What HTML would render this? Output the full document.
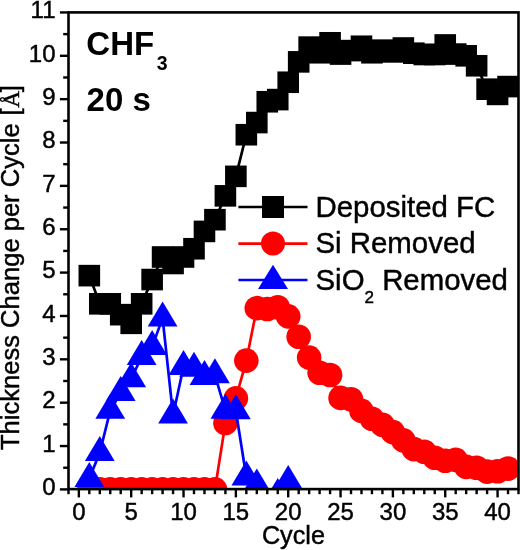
<!DOCTYPE html>
<html lang="en"><head><meta charset="utf-8"><title>Thickness Change per Cycle</title>
<style>html,body{margin:0;padding:0;background:#fff}body{width:520px;height:550px;overflow:hidden}svg{display:block}text{font-family:"Liberation Sans",Arial,sans-serif;fill:#000}.r text,text.r{stroke:#000;stroke-width:0.45px}</style>
</head><body>
<svg width="520" height="550" viewBox="0 0 520 550">
<rect width="520" height="550" fill="#fff"/>
<defs><clipPath id="plot"><rect x="68.5" y="12.4" width="450" height="476.7"/></clipPath></defs>
<g clip-path="url(#plot)">
<polyline points="89.32,275.64 99.79,303.82 110.25,303.82 120.72,314.66 131.19,323.33 141.66,303.82 152.13,279.54 162.59,256.99 173.06,263.49 183.53,256.99 194,248.75 204.47,231.41 214.93,219.7 225.4,195.85 235.87,176.34 246.34,134.72 256.81,122.57 267.27,101.76 277.74,99.59 288.21,82.25 298.68,61.87 309.15,47.13 319.61,52.76 330.08,42.79 340.55,54.07 351.02,50.6 361.49,46.26 371.95,52.76 382.42,50.16 392.89,51.9 403.36,48 413.83,53.2 424.29,54.5 434.76,54.5 445.23,44.96 455.7,54.07 466.17,55.8 476.63,65.77 487.1,89.19 497.57,94.39 508.04,86.59" fill="none" stroke="#000" stroke-width="2.7"/>
<g fill="#000">
<rect x="78.52" y="264.84" width="21.6" height="21.6"/>
<rect x="88.99" y="293.02" width="21.6" height="21.6"/>
<rect x="99.45" y="293.02" width="21.6" height="21.6"/>
<rect x="109.92" y="303.86" width="21.6" height="21.6"/>
<rect x="120.39" y="312.53" width="21.6" height="21.6"/>
<rect x="130.86" y="293.02" width="21.6" height="21.6"/>
<rect x="141.33" y="268.74" width="21.6" height="21.6"/>
<rect x="151.79" y="246.19" width="21.6" height="21.6"/>
<rect x="162.26" y="252.69" width="21.6" height="21.6"/>
<rect x="172.73" y="246.19" width="21.6" height="21.6"/>
<rect x="183.2" y="237.95" width="21.6" height="21.6"/>
<rect x="193.67" y="220.61" width="21.6" height="21.6"/>
<rect x="204.13" y="208.9" width="21.6" height="21.6"/>
<rect x="214.6" y="185.05" width="21.6" height="21.6"/>
<rect x="225.07" y="165.54" width="21.6" height="21.6"/>
<rect x="235.54" y="123.92" width="21.6" height="21.6"/>
<rect x="246.01" y="111.77" width="21.6" height="21.6"/>
<rect x="256.47" y="90.96" width="21.6" height="21.6"/>
<rect x="266.94" y="88.79" width="21.6" height="21.6"/>
<rect x="277.41" y="71.45" width="21.6" height="21.6"/>
<rect x="287.88" y="51.07" width="21.6" height="21.6"/>
<rect x="298.35" y="36.33" width="21.6" height="21.6"/>
<rect x="308.81" y="41.96" width="21.6" height="21.6"/>
<rect x="319.28" y="31.99" width="21.6" height="21.6"/>
<rect x="329.75" y="43.27" width="21.6" height="21.6"/>
<rect x="340.22" y="39.8" width="21.6" height="21.6"/>
<rect x="350.69" y="35.46" width="21.6" height="21.6"/>
<rect x="361.15" y="41.96" width="21.6" height="21.6"/>
<rect x="371.62" y="39.36" width="21.6" height="21.6"/>
<rect x="382.09" y="41.1" width="21.6" height="21.6"/>
<rect x="392.56" y="37.2" width="21.6" height="21.6"/>
<rect x="403.03" y="42.4" width="21.6" height="21.6"/>
<rect x="413.49" y="43.7" width="21.6" height="21.6"/>
<rect x="423.96" y="43.7" width="21.6" height="21.6"/>
<rect x="434.43" y="34.16" width="21.6" height="21.6"/>
<rect x="444.9" y="43.27" width="21.6" height="21.6"/>
<rect x="455.37" y="45" width="21.6" height="21.6"/>
<rect x="465.83" y="54.97" width="21.6" height="21.6"/>
<rect x="476.3" y="78.39" width="21.6" height="21.6"/>
<rect x="486.77" y="83.59" width="21.6" height="21.6"/>
<rect x="497.24" y="75.79" width="21.6" height="21.6"/>
</g>
<polyline points="89.32,489.4 99.79,489.4 110.25,489.4 120.72,489.4 131.19,489.4 141.66,489.4 152.13,489.4 162.59,489.4 173.06,489.4 183.53,489.4 194,489.4 204.47,489.4 214.93,489.4 225.4,423.06 235.87,398.34 246.34,360.62 256.81,308.16 267.27,309.02 277.74,307.29 288.21,316.39 298.68,336.77 309.15,357.59 319.61,372.76 330.08,374.93 340.55,397.91 351.02,399.21 361.49,410.92 371.95,418.72 382.42,424.79 392.89,432.16 403.36,440.4 413.83,449.08 424.29,451.68 434.76,457.75 445.23,460.78 455.7,459.92 466.17,466.85 476.63,467.72 487.1,471.62 497.57,471.19 508.04,468.59" fill="none" stroke="#f00" stroke-width="2.7"/>
<g fill="#f00">
<circle cx="89.32" cy="489.4" r="12.3"/>
<circle cx="99.79" cy="489.4" r="12.3"/>
<circle cx="110.25" cy="489.4" r="12.3"/>
<circle cx="120.72" cy="489.4" r="12.3"/>
<circle cx="131.19" cy="489.4" r="12.3"/>
<circle cx="141.66" cy="489.4" r="12.3"/>
<circle cx="152.13" cy="489.4" r="12.3"/>
<circle cx="162.59" cy="489.4" r="12.3"/>
<circle cx="173.06" cy="489.4" r="12.3"/>
<circle cx="183.53" cy="489.4" r="12.3"/>
<circle cx="194" cy="489.4" r="12.3"/>
<circle cx="204.47" cy="489.4" r="12.3"/>
<circle cx="214.93" cy="489.4" r="12.3"/>
<circle cx="225.4" cy="423.06" r="12.3"/>
<circle cx="235.87" cy="398.34" r="12.3"/>
<circle cx="246.34" cy="360.62" r="12.3"/>
<circle cx="256.81" cy="308.16" r="12.3"/>
<circle cx="267.27" cy="309.02" r="12.3"/>
<circle cx="277.74" cy="307.29" r="12.3"/>
<circle cx="288.21" cy="316.39" r="12.3"/>
<circle cx="298.68" cy="336.77" r="12.3"/>
<circle cx="309.15" cy="357.59" r="12.3"/>
<circle cx="319.61" cy="372.76" r="12.3"/>
<circle cx="330.08" cy="374.93" r="12.3"/>
<circle cx="340.55" cy="397.91" r="12.3"/>
<circle cx="351.02" cy="399.21" r="12.3"/>
<circle cx="361.49" cy="410.92" r="12.3"/>
<circle cx="371.95" cy="418.72" r="12.3"/>
<circle cx="382.42" cy="424.79" r="12.3"/>
<circle cx="392.89" cy="432.16" r="12.3"/>
<circle cx="403.36" cy="440.4" r="12.3"/>
<circle cx="413.83" cy="449.08" r="12.3"/>
<circle cx="424.29" cy="451.68" r="12.3"/>
<circle cx="434.76" cy="457.75" r="12.3"/>
<circle cx="445.23" cy="460.78" r="12.3"/>
<circle cx="455.7" cy="459.92" r="12.3"/>
<circle cx="466.17" cy="466.85" r="12.3"/>
<circle cx="476.63" cy="467.72" r="12.3"/>
<circle cx="487.1" cy="471.62" r="12.3"/>
<circle cx="497.57" cy="471.19" r="12.3"/>
<circle cx="508.04" cy="468.59" r="12.3"/>
</g>
<polyline points="89.32,478.56 99.79,452.54 110.25,410.48 120.72,392.71 131.19,378.83 141.66,356.72 152.13,346.75 162.59,318.13 173.06,415.25 183.53,366.69 194,368.43 204.47,376.66 214.93,374.93 225.4,410.48 235.87,410.92 246.34,477.26 256.81,485.06 267.27,513.25 277.74,494.6 288.21,481.6" fill="none" stroke="#00f" stroke-width="2.7"/>
<g fill="#00f">
<polygon points="89.32,461.89 104.22,486.89 74.42,486.89"/>
<polygon points="99.79,435.88 114.69,460.88 84.89,460.88"/>
<polygon points="110.25,393.82 125.15,418.82 95.35,418.82"/>
<polygon points="120.72,376.04 135.62,401.04 105.82,401.04"/>
<polygon points="131.19,362.17 146.09,387.17 116.29,387.17"/>
<polygon points="141.66,340.05 156.56,365.05 126.76,365.05"/>
<polygon points="152.13,330.08 167.03,355.08 137.23,355.08"/>
<polygon points="162.59,301.46 177.49,326.46 147.69,326.46"/>
<polygon points="173.06,398.59 187.96,423.59 158.16,423.59"/>
<polygon points="183.53,350.02 198.43,375.02 168.63,375.02"/>
<polygon points="194,351.76 208.9,376.76 179.1,376.76"/>
<polygon points="204.47,360 219.37,385 189.57,385"/>
<polygon points="214.93,358.26 229.83,383.26 200.03,383.26"/>
<polygon points="225.4,393.82 240.3,418.82 210.5,418.82"/>
<polygon points="235.87,394.25 250.77,419.25 220.97,419.25"/>
<polygon points="246.34,460.59 261.24,485.59 231.44,485.59"/>
<polygon points="256.81,468.4 271.71,493.4 241.91,493.4"/>
<polygon points="267.27,496.58 282.17,521.58 252.37,521.58"/>
<polygon points="277.74,477.94 292.64,502.94 262.84,502.94"/>
<polygon points="288.21,464.93 303.11,489.93 273.31,489.93"/>
</g>
</g>
<g stroke-width="2.7">
<line x1="238.4" y1="207" x2="307.5" y2="207" stroke="#000"/>
<line x1="238.4" y1="243.6" x2="307.5" y2="243.6" stroke="#f00"/>
<line x1="238.4" y1="280" x2="307.5" y2="280" stroke="#00f"/>
</g>
<rect x="262" y="196" width="22" height="22" fill="#000"/>
<circle cx="273" cy="243.6" r="12" fill="#f00"/>
<polygon points="273,264.8 288,289 258,289" fill="#00f"/>
<g class="r" font-size="29.4">
<text x="315.5" y="216.5">Deposited FC</text>
<text x="315.5" y="253">Si Removed</text>
<text x="315.5" y="289.5">SiO<tspan font-size="17" dy="13">2</tspan><tspan dy="-13"> Removed</tspan></text>
</g>
<rect x="68.5" y="12.4" width="450" height="476.7" fill="none" stroke="#000" stroke-width="2.6"/>
<g stroke="#000" stroke-width="2.4">
<line x1="78.85" y1="489.1" x2="78.85" y2="497.4"/>
<line x1="89.32" y1="489.1" x2="89.32" y2="494.2"/>
<line x1="99.79" y1="489.1" x2="99.79" y2="494.2"/>
<line x1="110.25" y1="489.1" x2="110.25" y2="494.2"/>
<line x1="120.72" y1="489.1" x2="120.72" y2="494.2"/>
<line x1="131.19" y1="489.1" x2="131.19" y2="497.4"/>
<line x1="141.66" y1="489.1" x2="141.66" y2="494.2"/>
<line x1="152.13" y1="489.1" x2="152.13" y2="494.2"/>
<line x1="162.59" y1="489.1" x2="162.59" y2="494.2"/>
<line x1="173.06" y1="489.1" x2="173.06" y2="494.2"/>
<line x1="183.53" y1="489.1" x2="183.53" y2="497.4"/>
<line x1="194" y1="489.1" x2="194" y2="494.2"/>
<line x1="204.47" y1="489.1" x2="204.47" y2="494.2"/>
<line x1="214.93" y1="489.1" x2="214.93" y2="494.2"/>
<line x1="225.4" y1="489.1" x2="225.4" y2="494.2"/>
<line x1="235.87" y1="489.1" x2="235.87" y2="497.4"/>
<line x1="246.34" y1="489.1" x2="246.34" y2="494.2"/>
<line x1="256.81" y1="489.1" x2="256.81" y2="494.2"/>
<line x1="267.27" y1="489.1" x2="267.27" y2="494.2"/>
<line x1="277.74" y1="489.1" x2="277.74" y2="494.2"/>
<line x1="288.21" y1="489.1" x2="288.21" y2="497.4"/>
<line x1="298.68" y1="489.1" x2="298.68" y2="494.2"/>
<line x1="309.15" y1="489.1" x2="309.15" y2="494.2"/>
<line x1="319.61" y1="489.1" x2="319.61" y2="494.2"/>
<line x1="330.08" y1="489.1" x2="330.08" y2="494.2"/>
<line x1="340.55" y1="489.1" x2="340.55" y2="497.4"/>
<line x1="351.02" y1="489.1" x2="351.02" y2="494.2"/>
<line x1="361.49" y1="489.1" x2="361.49" y2="494.2"/>
<line x1="371.95" y1="489.1" x2="371.95" y2="494.2"/>
<line x1="382.42" y1="489.1" x2="382.42" y2="494.2"/>
<line x1="392.89" y1="489.1" x2="392.89" y2="497.4"/>
<line x1="403.36" y1="489.1" x2="403.36" y2="494.2"/>
<line x1="413.83" y1="489.1" x2="413.83" y2="494.2"/>
<line x1="424.29" y1="489.1" x2="424.29" y2="494.2"/>
<line x1="434.76" y1="489.1" x2="434.76" y2="494.2"/>
<line x1="445.23" y1="489.1" x2="445.23" y2="497.4"/>
<line x1="455.7" y1="489.1" x2="455.7" y2="494.2"/>
<line x1="466.17" y1="489.1" x2="466.17" y2="494.2"/>
<line x1="476.63" y1="489.1" x2="476.63" y2="494.2"/>
<line x1="487.1" y1="489.1" x2="487.1" y2="494.2"/>
<line x1="497.57" y1="489.1" x2="497.57" y2="497.4"/>
<line x1="508.04" y1="489.1" x2="508.04" y2="494.2"/>
<line x1="68.5" y1="489.1" x2="68.5" y2="494.2"/>
<line x1="518.5" y1="489.1" x2="518.5" y2="494.2"/>
<line x1="59.9" y1="489.4" x2="68.5" y2="489.4"/>
<line x1="63.2" y1="467.72" x2="68.5" y2="467.72"/>
<line x1="59.9" y1="446.04" x2="68.5" y2="446.04"/>
<line x1="63.2" y1="424.36" x2="68.5" y2="424.36"/>
<line x1="59.9" y1="402.68" x2="68.5" y2="402.68"/>
<line x1="63.2" y1="381" x2="68.5" y2="381"/>
<line x1="59.9" y1="359.32" x2="68.5" y2="359.32"/>
<line x1="63.2" y1="337.64" x2="68.5" y2="337.64"/>
<line x1="59.9" y1="315.96" x2="68.5" y2="315.96"/>
<line x1="63.2" y1="294.28" x2="68.5" y2="294.28"/>
<line x1="59.9" y1="272.6" x2="68.5" y2="272.6"/>
<line x1="63.2" y1="250.92" x2="68.5" y2="250.92"/>
<line x1="59.9" y1="229.24" x2="68.5" y2="229.24"/>
<line x1="63.2" y1="207.56" x2="68.5" y2="207.56"/>
<line x1="59.9" y1="185.88" x2="68.5" y2="185.88"/>
<line x1="63.2" y1="164.2" x2="68.5" y2="164.2"/>
<line x1="59.9" y1="142.52" x2="68.5" y2="142.52"/>
<line x1="63.2" y1="120.84" x2="68.5" y2="120.84"/>
<line x1="59.9" y1="99.16" x2="68.5" y2="99.16"/>
<line x1="63.2" y1="77.48" x2="68.5" y2="77.48"/>
<line x1="59.9" y1="55.8" x2="68.5" y2="55.8"/>
<line x1="63.2" y1="34.12" x2="68.5" y2="34.12"/>
<line x1="59.9" y1="12.44" x2="68.5" y2="12.44"/>
</g>
<g class="r" font-size="24" text-anchor="middle">
<text x="78.85" y="520.3">0</text>
<text x="131.19" y="520.3">5</text>
<text x="183.53" y="520.3">10</text>
<text x="235.87" y="520.3">15</text>
<text x="288.21" y="520.3">20</text>
<text x="340.55" y="520.3">25</text>
<text x="392.89" y="520.3">30</text>
<text x="445.23" y="520.3">35</text>
<text x="497.57" y="520.3">40</text>
</g>
<g class="r" font-size="24" text-anchor="end">
<text x="55.5" y="495.1">0</text>
<text x="55.5" y="451.74">1</text>
<text x="55.5" y="408.38">2</text>
<text x="55.5" y="365.02">3</text>
<text x="55.5" y="321.66">4</text>
<text x="55.5" y="278.3">5</text>
<text x="55.5" y="234.94">6</text>
<text x="55.5" y="191.58">7</text>
<text x="55.5" y="148.22">8</text>
<text x="55.5" y="104.86">9</text>
<text x="55.5" y="61.5">10</text>
<text x="55.5" y="18.14">11</text>
</g>
<text class="r" x="293.4" y="543.8" font-size="25.2" text-anchor="middle">Cycle</text>
<text class="r" transform="translate(19.4,450) rotate(-90)" font-size="25.55">Thickness Change per Cycle <tspan dx="0.9">[</tspan><tspan dx="0.6" font-size="23.5" font-family="'Liberation Serif',serif">Å</tspan><tspan dx="-1.5">]</tspan></text>
<g font-weight="bold" font-size="33">
<text x="86.3" y="55.4">CHF<tspan font-size="19.5" dx="2.5" dy="15">3</tspan></text>
<text x="86.6" y="110.6">20 s</text>
</g>
</svg>
</body></html>
